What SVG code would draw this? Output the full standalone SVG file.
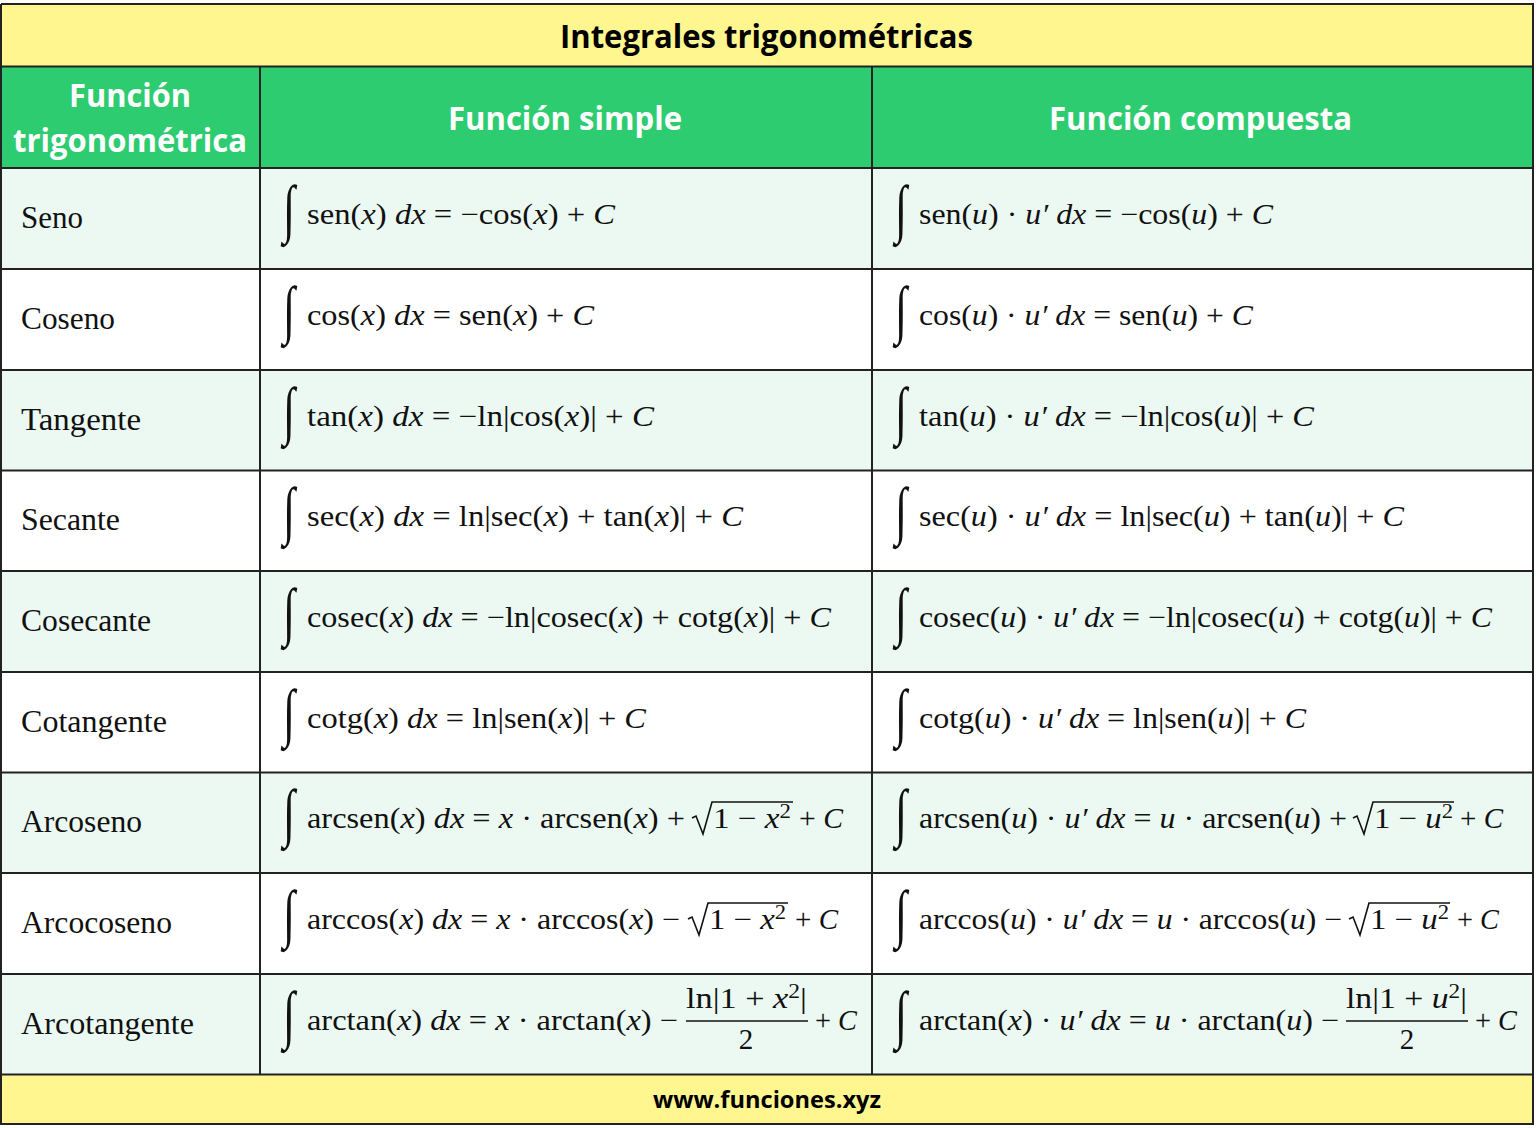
<svg xmlns="http://www.w3.org/2000/svg" width="1536" height="1128" viewBox="0 0 1536 1128">
<style>
text{white-space:pre}
.h{font-family:"Open Sans","Liberation Sans",sans-serif;font-weight:700;fill:#fff;font-size:32px}
.b{font-family:"Open Sans","Liberation Sans",sans-serif;font-weight:700;fill:#000}
.l{font-family:"Liberation Serif",serif;font-size:31px;fill:#111}
.f{font-family:"Liberation Serif",serif;font-size:29px;fill:#111}
.i{font-family:"Liberation Serif",serif;font-size:64px;fill:#111}
.f tspan{font-style:italic}
.f tspan.s{font-style:normal;font-size:20px}
.f tspan.n{font-style:normal}
.g{fill:#ebf9f2}.w{fill:#fff}.y{fill:#fff68f}.v{fill:#2ecc71}
.ln{stroke:#222;stroke-width:2;fill:none}
.m{stroke:#111;stroke-width:1.6;fill:none}
</style>
<rect width="1536" height="1128" fill="#fff"/>
<g id="backgrounds">
<rect class="y" x="1" y="4" width="1532" height="62"/>
<rect class="v" x="1" y="66" width="1532" height="102"/>
<rect class="g" x="1" y="168" width="1532" height="101"/>
<rect class="w" x="1" y="269" width="1532" height="101"/>
<rect class="g" x="1" y="370" width="1532" height="101"/>
<rect class="w" x="1" y="471" width="1532" height="100"/>
<rect class="g" x="1" y="571" width="1532" height="101"/>
<rect class="w" x="1" y="672" width="1532" height="100"/>
<rect class="g" x="1" y="772" width="1532" height="101"/>
<rect class="w" x="1" y="873" width="1532" height="101"/>
<rect class="g" x="1" y="974" width="1532" height="100"/>
<rect class="y" x="1" y="1074" width="1532" height="50"/>
</g>
<g id="title"><text class="b" x="560" y="48" font-size="33" textLength="413" lengthAdjust="spacingAndGlyphs">Integrales trigonométricas</text></g>
<g id="header-trig"><text class="h" x="69" y="107" textLength="122" lengthAdjust="spacingAndGlyphs">Función</text><text class="h" x="13" y="152" textLength="234" lengthAdjust="spacingAndGlyphs">trigonométrica</text></g>
<g id="header-simple"><text class="h" x="448" y="130" textLength="234" lengthAdjust="spacingAndGlyphs">Función simple</text></g>
<g id="header-compuesta"><text class="h" x="1049" y="130" textLength="303" lengthAdjust="spacingAndGlyphs">Función compuesta</text></g>

<g id="row-seno">
<text class="l" x="21" y="228" textLength="62" lengthAdjust="spacingAndGlyphs">Seno</text>
<text class="i" x="283" y="230" textLength="12" lengthAdjust="spacingAndGlyphs">∫</text>
<text class="f" x="307" y="224" textLength="308" lengthAdjust="spacingAndGlyphs">sen(<tspan>x</tspan>) <tspan>dx</tspan> = −cos(<tspan>x</tspan>) + <tspan>C</tspan></text>
<text class="i" x="895" y="230" textLength="12" lengthAdjust="spacingAndGlyphs">∫</text>
<text class="f" x="919" y="224" textLength="354" lengthAdjust="spacingAndGlyphs">sen(<tspan>u</tspan>) · <tspan>u′ dx</tspan> = −cos(<tspan>u</tspan>) + <tspan>C</tspan></text>
</g>
<g id="row-coseno">
<text class="l" x="21" y="329" textLength="94" lengthAdjust="spacingAndGlyphs">Coseno</text>
<text class="i" x="283" y="331" textLength="12" lengthAdjust="spacingAndGlyphs">∫</text>
<text class="f" x="307" y="325" textLength="287" lengthAdjust="spacingAndGlyphs">cos(<tspan>x</tspan>) <tspan>dx</tspan> = sen(<tspan>x</tspan>) + <tspan>C</tspan></text>
<text class="i" x="895" y="331" textLength="12" lengthAdjust="spacingAndGlyphs">∫</text>
<text class="f" x="919" y="325" textLength="334" lengthAdjust="spacingAndGlyphs">cos(<tspan>u</tspan>) · <tspan>u′ dx</tspan> = sen(<tspan>u</tspan>) + <tspan>C</tspan></text>
</g>
<g id="row-tangente">
<text class="l" x="21" y="430" textLength="120" lengthAdjust="spacingAndGlyphs">Tangente</text>
<text class="i" x="283" y="432" textLength="12" lengthAdjust="spacingAndGlyphs">∫</text>
<text class="f" x="307" y="426" textLength="347" lengthAdjust="spacingAndGlyphs">tan(<tspan>x</tspan>) <tspan>dx</tspan> = −ln|cos(<tspan>x</tspan>)| + <tspan>C</tspan></text>
<text class="i" x="895" y="432" textLength="12" lengthAdjust="spacingAndGlyphs">∫</text>
<text class="f" x="919" y="426" textLength="395" lengthAdjust="spacingAndGlyphs">tan(<tspan>u</tspan>) · <tspan>u′ dx</tspan> = −ln|cos(<tspan>u</tspan>)| + <tspan>C</tspan></text>
</g>
<g id="row-secante">
<text class="l" x="21" y="530" textLength="99" lengthAdjust="spacingAndGlyphs">Secante</text>
<text class="i" x="283" y="532" textLength="12" lengthAdjust="spacingAndGlyphs">∫</text>
<text class="f" x="307" y="526" textLength="436" lengthAdjust="spacingAndGlyphs">sec(<tspan>x</tspan>) <tspan>dx</tspan> = ln|sec(<tspan>x</tspan>) + tan(<tspan>x</tspan>)| + <tspan>C</tspan></text>
<text class="i" x="895" y="532" textLength="12" lengthAdjust="spacingAndGlyphs">∫</text>
<text class="f" x="919" y="526" textLength="485" lengthAdjust="spacingAndGlyphs">sec(<tspan>u</tspan>) · <tspan>u′ dx</tspan> = ln|sec(<tspan>u</tspan>) + tan(<tspan>u</tspan>)| + <tspan>C</tspan></text>
</g>
<g id="row-cosecante">
<text class="l" x="21" y="631" textLength="130" lengthAdjust="spacingAndGlyphs">Cosecante</text>
<text class="i" x="283" y="633" textLength="12" lengthAdjust="spacingAndGlyphs">∫</text>
<text class="f" x="307" y="627" textLength="524" lengthAdjust="spacingAndGlyphs">cosec(<tspan>x</tspan>) <tspan>dx</tspan> = −ln|cosec(<tspan>x</tspan>) + cotg(<tspan>x</tspan>)| + <tspan>C</tspan></text>
<text class="i" x="895" y="633" textLength="12" lengthAdjust="spacingAndGlyphs">∫</text>
<text class="f" x="919" y="627" textLength="573" lengthAdjust="spacingAndGlyphs">cosec(<tspan>u</tspan>) · <tspan>u′ dx</tspan> = −ln|cosec(<tspan>u</tspan>) + cotg(<tspan>u</tspan>)| + <tspan>C</tspan></text>
</g>
<g id="row-cotangente">
<text class="l" x="21" y="732" textLength="146" lengthAdjust="spacingAndGlyphs">Cotangente</text>
<text class="i" x="283" y="734" textLength="12" lengthAdjust="spacingAndGlyphs">∫</text>
<text class="f" x="307" y="728" textLength="339" lengthAdjust="spacingAndGlyphs">cotg(<tspan>x</tspan>) <tspan>dx</tspan> = ln|sen(<tspan>x</tspan>)| + <tspan>C</tspan></text>
<text class="i" x="895" y="734" textLength="12" lengthAdjust="spacingAndGlyphs">∫</text>
<text class="f" x="919" y="728" textLength="387" lengthAdjust="spacingAndGlyphs">cotg(<tspan>u</tspan>) · <tspan>u′ dx</tspan> = ln|sen(<tspan>u</tspan>)| + <tspan>C</tspan></text>
</g>
<g id="row-arcoseno">
<text class="l" x="21" y="832" textLength="121" lengthAdjust="spacingAndGlyphs">Arcoseno</text>
<text class="i" x="283" y="834" textLength="12" lengthAdjust="spacingAndGlyphs">∫</text>
<text class="f" x="307" y="828" textLength="378" lengthAdjust="spacingAndGlyphs">arcsen(<tspan>x</tspan>) <tspan>dx</tspan> = <tspan>x</tspan> · arcsen(<tspan>x</tspan>) +</text>
<path class="m" d="M692 818l4-2 7 18 9-32h81"/>
<text class="f" x="713" y="828" textLength="78" lengthAdjust="spacingAndGlyphs">1 − <tspan>x</tspan><tspan class="s" dy="-10">2</tspan></text>
<text class="f" x="799" y="828" textLength="44" lengthAdjust="spacingAndGlyphs">+ <tspan>C</tspan></text>
<text class="i" x="895" y="834" textLength="12" lengthAdjust="spacingAndGlyphs">∫</text>
<text class="f" x="919" y="828" textLength="428" lengthAdjust="spacingAndGlyphs">arcsen(<tspan>u</tspan>) · <tspan>u′ dx</tspan> = <tspan>u</tspan> · arcsen(<tspan>u</tspan>) +</text>
<path class="m" d="M1353 818l4-2 7 18 9-32h81"/>
<text class="f" x="1374" y="828" textLength="79" lengthAdjust="spacingAndGlyphs">1 − <tspan>u</tspan><tspan class="s" dy="-10">2</tspan></text>
<text class="f" x="1460" y="828" textLength="43" lengthAdjust="spacingAndGlyphs">+ <tspan>C</tspan></text>
</g>
<g id="row-arcocoseno">
<text class="l" x="21" y="933" textLength="151" lengthAdjust="spacingAndGlyphs">Arcocoseno</text>
<text class="i" x="283" y="935" textLength="12" lengthAdjust="spacingAndGlyphs">∫</text>
<text class="f" x="307" y="929" textLength="373" lengthAdjust="spacingAndGlyphs">arccos(<tspan>x</tspan>) <tspan>dx</tspan> = <tspan>x</tspan> · arccos(<tspan>x</tspan>) −</text>
<path class="m" d="M688 919l4-2 7 18 9-32h80"/>
<text class="f" x="709" y="929" textLength="77" lengthAdjust="spacingAndGlyphs">1 − <tspan>x</tspan><tspan class="s" dy="-10">2</tspan></text>
<text class="f" x="795" y="929" textLength="43" lengthAdjust="spacingAndGlyphs">+ <tspan>C</tspan></text>
<text class="i" x="895" y="935" textLength="12" lengthAdjust="spacingAndGlyphs">∫</text>
<text class="f" x="919" y="929" textLength="423" lengthAdjust="spacingAndGlyphs">arccos(<tspan>u</tspan>) · <tspan>u′ dx</tspan> = <tspan>u</tspan> · arccos(<tspan>u</tspan>) −</text>
<path class="m" d="M1349 919l4-2 7 18 9-32h81"/>
<text class="f" x="1370" y="929" textLength="79" lengthAdjust="spacingAndGlyphs">1 − <tspan>u</tspan><tspan class="s" dy="-10">2</tspan></text>
<text class="f" x="1457" y="929" textLength="42" lengthAdjust="spacingAndGlyphs">+ <tspan>C</tspan></text>
</g>
<g id="row-arcotangente">
<text class="l" x="21" y="1034" textLength="173" lengthAdjust="spacingAndGlyphs">Arcotangente</text>
<text class="i" x="283" y="1036" textLength="12" lengthAdjust="spacingAndGlyphs">∫</text>
<text class="f" x="307" y="1030" textLength="371" lengthAdjust="spacingAndGlyphs">arctan(<tspan>x</tspan>) <tspan>dx</tspan> = <tspan>x</tspan> · arctan(<tspan>x</tspan>) −</text>
<text class="f" x="686" y="1008" textLength="121" lengthAdjust="spacingAndGlyphs">ln|1 + <tspan>x</tspan><tspan class="s" dy="-10">2</tspan><tspan class="n" dy="10">|</tspan></text>
<path class="m" d="M686 1021h122"/>
<text class="f" x="746" y="1049" text-anchor="middle">2</text>
<text class="f" x="815" y="1030" textLength="42" lengthAdjust="spacingAndGlyphs">+ <tspan>C</tspan></text>
<text class="i" x="895" y="1036" textLength="12" lengthAdjust="spacingAndGlyphs">∫</text>
<text class="f" x="919" y="1030" textLength="420" lengthAdjust="spacingAndGlyphs">arctan(<tspan>x</tspan>) · <tspan>u′ dx</tspan> = <tspan>u</tspan> · arctan(<tspan>u</tspan>) −</text>
<text class="f" x="1346" y="1008" textLength="121" lengthAdjust="spacingAndGlyphs">ln|1 + <tspan>u</tspan><tspan class="s" dy="-10">2</tspan><tspan class="n" dy="10">|</tspan></text>
<path class="m" d="M1346 1021h122"/>
<text class="f" x="1407" y="1049" text-anchor="middle">2</text>
<text class="f" x="1475" y="1030" textLength="42" lengthAdjust="spacingAndGlyphs">+ <tspan>C</tspan></text>
</g>
<g id="footer"><text class="b" x="653" y="1108" font-size="24" textLength="228" lengthAdjust="spacingAndGlyphs">www.funciones.xyz</text></g>
<g id="connectors" class="ln">
<path d="M1 4H1533V1124H1V4"/>
<path d="M1 66.500H1533M1 168H1533M1 269H1533M1 370H1533M1 470.500H1533M1 571H1533M1 672H1533M1 772.500H1533M1 873H1533M1 974H1533M1 1074.500H1533"/>
<path d="M260 66V1074M872 66V1074"/>
</g>
</svg>
